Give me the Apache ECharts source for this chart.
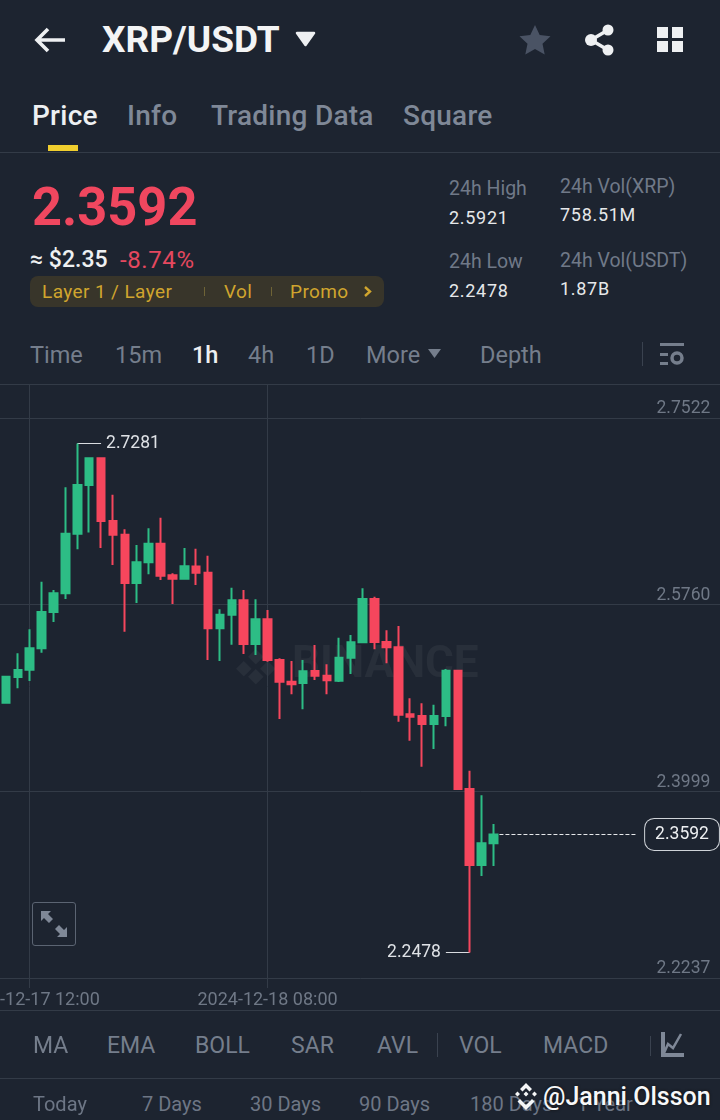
<!DOCTYPE html>
<html>
<head>
<meta charset="utf-8">
<title>XRP/USDT</title>
<style>
html,body{margin:0;padding:0;background:#1d2430;}
#page{position:relative;width:720px;height:1120px;overflow:hidden;background:#1d2430;font-family:Roboto,"Noto Sans",sans-serif;color:#848e9c;}
#page span,#page i,#page svg{position:absolute;white-space:nowrap;font-style:normal;}
.ln{position:absolute;left:0;width:720px;height:1px;background:#333b47;}
.tab{top:99px;font-size:28px;line-height:34px;font-weight:500;color:#7f8897;letter-spacing:.25px;}
.lbl{font-size:19.500px;line-height:24px;color:#707988;}
.val{font-size:18px;line-height:24px;color:#e6e8ea;letter-spacing:.7px;}
.tf{top:341px;font-size:23.500px;line-height:28px;color:#757e8c;}
.ind{top:1032px;font-size:23px;line-height:28px;color:#757e8c;}
.rng{top:1092px;font-size:20px;line-height:24px;color:#6d7685;}
.bdg{top:279px;font-size:19px;line-height:25px;color:#d0a52e;letter-spacing:.4px;}
#chart{position:absolute;left:0;top:385px;width:720px;height:625px;}
</style>
</head>
<body>
<div id="page">
  <svg style="left:34px;top:26px" width="32" height="28" viewBox="0 0 32 28"><path d="M14 3L3 14l11 11M3 14h28" fill="none" stroke="#eef0f2" stroke-width="3.600"/></svg>
  <span style="left:102px;top:19px;font-size:37px;line-height:42px;font-weight:700;color:#f3f4f5">XRP/USDT</span>
  <svg style="left:295px;top:31px" width="21" height="16" viewBox="0 0 21 16"><path d="M2 2h17l-8.500 12z" fill="#eef0f2" stroke="#eef0f2" stroke-width="2.500" stroke-linejoin="round"/></svg>
  <svg style="left:519px;top:24px" width="32" height="31" viewBox="0 0 32 31"><path d="M16 1l4.700 10 10.800 1.300-8 7.400 2.200 10.800L16 25l-9.700 5.500 2.200-10.800-8-7.400L11.300 11z" fill="#4a5364"/></svg>
  <svg style="left:584px;top:24px" width="31" height="32" viewBox="0 0 31 32"><path d="M24 6L7 16l17 10" fill="none" stroke="#eef0f2" stroke-width="3.500"/><circle cx="24" cy="6" r="5.500" fill="#eef0f2"/><circle cx="7" cy="16" r="6" fill="#eef0f2"/><circle cx="24" cy="26" r="5.500" fill="#eef0f2"/></svg>
  <svg style="left:656px;top:26px" width="28" height="27" viewBox="0 0 28 27"><path d="M1 1h11v11H1zM16 1h11v11H16zM1 15h11v11H1zM16 15h11v11H16z" fill="#eef0f2"/></svg>

  <span class="tab" style="left:32px;color:#eef0f2">Price</span>
  <span class="tab" style="left:127px">Info</span>
  <span class="tab" style="left:211px">Trading Data</span>
  <span class="tab" style="left:403px">Square</span>
  <i style="left:48px;top:145px;width:30px;height:6px;background:#f0ce2e"></i>
  <div class="ln" style="top:152px"></div>

  <span style="left:32px;top:175px;font-size:54px;line-height:64px;font-weight:700;color:#f0475f;transform:scaleX(.97);transform-origin:left center">2.3592</span>
  <span style="left:30px;top:246px;font-size:23px;line-height:28px;font-weight:500;color:#eef0f2">≈ $2.35</span>
  <span style="left:120px;top:246px;font-size:24px;line-height:28px;color:#e5485f;letter-spacing:.6px">-8.74%</span>
  <i style="left:30px;top:276px;width:354px;height:31px;border-radius:8px;background:#38352a"></i>
  <span class="bdg" style="left:42px">Layer 1 / Layer</span>
  <i style="left:204px;top:287px;width:1px;height:9px;background:#6e6336"></i>
  <span class="bdg" style="left:224px">Vol</span>
  <i style="left:271px;top:287px;width:1px;height:9px;background:#6e6336"></i>
  <span class="bdg" style="left:290px">Promo</span>
  <svg style="left:363px;top:285px" width="10" height="13" viewBox="0 0 10 13"><path d="M2 2l5 4.500-5 4.500" fill="none" stroke="#d0a52e" stroke-width="2.400"/></svg>

  <span class="lbl" style="left:449px;top:177px">24h High</span>
  <span class="val" style="left:449px;top:206px">2.5921</span>
  <span class="lbl" style="left:560px;top:175px">24h Vol(XRP)</span>
  <span class="val" style="left:560px;top:203px">758.51M</span>
  <span class="lbl" style="left:449px;top:250px">24h Low</span>
  <span class="val" style="left:449px;top:279px">2.2478</span>
  <span class="lbl" style="left:560px;top:249px">24h Vol(USDT)</span>
  <span class="val" style="left:560px;top:277px">1.87B</span>

  <span class="tf" style="left:30px">Time</span>
  <span class="tf" style="left:115px">15m</span>
  <span class="tf" style="left:192px;color:#eef0f2;font-weight:500">1h</span>
  <span class="tf" style="left:248px">4h</span>
  <span class="tf" style="left:306px">1D</span>
  <span class="tf" style="left:366px">More</span>
  <svg style="left:427px;top:348px" width="15" height="12" viewBox="0 0 15 12"><path d="M1 1h13l-6.500 9z" fill="#757e8c"/></svg>
  <span class="tf" style="left:480px">Depth</span>
  <i style="left:642px;top:342px;width:1px;height:24px;background:#3a424f"></i>
  <svg style="left:660px;top:342px" width="25" height="25" viewBox="0 0 25 25"><path d="M0 1h24v3H0zM0 11h8v3H0zM0 20h8v3H0z" fill="#757e8c"/><circle cx="17" cy="16" r="5" fill="none" stroke="#757e8c" stroke-width="3.500"/></svg>
  <div class="ln" style="top:384px"></div>

  <div id="chart"></div>

  <i style="left:32px;top:902px;width:42px;height:42px;border:1.500px solid #5b6472;border-radius:3px"></i>
  <svg style="left:40px;top:910px" width="28" height="28" viewBox="0 0 28 28"><path d="M1 1h10l-3 3 5 5-4 4-5-5-3 3zM27 27H17l3-3-5-5 4-4 5 5 3-3z" fill="#7f8897"/></svg>

  <div class="ln" style="top:1010px"></div>
  <span class="ind" style="left:33px">MA</span>
  <span class="ind" style="left:107px">EMA</span>
  <span class="ind" style="left:195px">BOLL</span>
  <span class="ind" style="left:291px">SAR</span>
  <span class="ind" style="left:377px">AVL</span>
  <i style="left:437px;top:1033px;width:1px;height:24px;background:#3a424f"></i>
  <span class="ind" style="left:459px">VOL</span>
  <span class="ind" style="left:543px">MACD</span>
  <i style="left:650px;top:1036px;width:1px;height:20px;background:#3a424f"></i>
  <svg style="left:661px;top:1032px" width="23" height="25" viewBox="0 0 23 25"><path d="M3 21l4-9 5 4 8-14" fill="none" stroke="#7f8897" stroke-width="2.500"/><path d="M0 25V0h4v21h19v4z" fill="#7f8897"/></svg>
  <div class="ln" style="top:1078px"></div>
  <span class="rng" style="left:33px">Today</span>
  <span class="rng" style="left:142px">7 Days</span>
  <span class="rng" style="left:250px">30 Days</span>
  <span class="rng" style="left:359px">90 Days</span>
  <span class="rng" style="left:470px">180 Days</span>
  <span class="rng" style="left:577px">1 Year</span>

  <svg style="left:512px;top:1083px" width="28" height="28" viewBox="0 0 28 28"><path d="M14 1l6 6-2.500 2.500L14 6l-3.500 3.500L8 7zM5.500 9.500L8 12l-2.500 2.500L3 12zM22.500 9.500L25 12l-2.500 2.500L20 12zM14 9.500l2.500 2.500-2.500 2.500-2.500-2.500zM8 17l6 6 6-6 2.500 2.500L14 28l-8.500-8.500z" fill="#f5f6f7" transform="translate(0,-1)"/></svg>
  <span style="left:543px;top:1082px;font-size:25px;line-height:30px;font-weight:500;color:#f7f8f9;text-shadow:0 0 3px #111">@Janni Olsson</span>
</div>

<script src="https://cdn.jsdelivr.net/npm/echarts@6/dist/echarts.min.js"></script>
<script>
// 1h candles, first one is 2024-12-17 10:00
var times = [
  "2024-12-17 10:00","2024-12-17 11:00","2024-12-17 12:00","2024-12-17 13:00","2024-12-17 14:00","2024-12-17 15:00",
  "2024-12-17 16:00","2024-12-17 17:00","2024-12-17 18:00","2024-12-17 19:00","2024-12-17 20:00","2024-12-17 21:00",
  "2024-12-17 22:00","2024-12-17 23:00","2024-12-18 00:00","2024-12-18 01:00","2024-12-18 02:00","2024-12-18 03:00",
  "2024-12-18 04:00","2024-12-18 05:00","2024-12-18 06:00","2024-12-18 07:00","2024-12-18 08:00","2024-12-18 09:00",
  "2024-12-18 10:00","2024-12-18 11:00","2024-12-18 12:00","2024-12-18 13:00","2024-12-18 14:00","2024-12-18 15:00",
  "2024-12-18 16:00","2024-12-18 17:00","2024-12-18 18:00","2024-12-18 19:00","2024-12-18 20:00","2024-12-18 21:00",
  "2024-12-18 22:00","2024-12-18 23:00","2024-12-19 00:00","2024-12-19 01:00","2024-12-19 02:00","2024-12-19 03:00"
];
var opens = [
  2.4835,2.5078,2.5147,2.5349,2.5691,2.5868,2.6430,2.6890,2.7142,2.6550,2.6421,2.5965,2.6160,2.6336,
  2.6037,2.6005,2.6121,2.6062,2.5537,2.5666,2.5802,2.5389,2.5623,2.5238,2.5033,2.5021,2.5134,2.5090,
  2.5043,2.5260,2.5405,2.5814,2.5408,2.5358,2.4726,2.4710,2.4634,2.4710,2.5137,2.4021,2.3303,2.3508
];
var closes = [
  2.5081,2.5144,2.5349,2.5691,2.5868,2.6430,2.6890,2.7142,2.6550,2.6421,2.5965,2.6160,2.6336,2.6034,
  2.6005,2.6122,2.6062,2.5537,2.5666,2.5802,2.5389,2.5623,2.5238,2.5033,2.5009,2.5131,2.5090,2.5047,
  2.5260,2.5405,2.5814,2.5408,2.5358,2.4722,2.4703,2.4634,2.4710,2.5137,2.4021,2.3303,2.3508,2.3592
];
var lows = [
  2.4829,2.4971,2.5040,2.5307,2.5597,2.5814,2.6283,2.6440,2.6295,2.6135,2.5505,2.5776,2.6047,2.5993,
  2.5767,2.6003,2.5946,2.5238,2.5229,2.5383,2.5295,2.5285,2.5222,2.4681,2.4914,2.4773,2.5050,2.4914,
  2.5030,2.5106,2.5401,2.5339,2.5207,2.4656,2.4477,2.4231,2.4398,2.4612,2.4021,2.2478,2.3200,2.3294
];
var highs = [
  2.5085,2.5301,2.5528,2.5977,2.5899,2.6868,2.7281,2.7151,2.7145,2.6798,2.6472,2.6323,2.6481,2.6581,
  2.6056,2.6295,2.6289,2.6222,2.5717,2.5920,2.5899,2.5812,2.5710,2.5254,2.5229,2.5238,2.5380,2.5198,
  2.5449,2.5474,2.5915,2.5836,2.5518,2.5559,2.4877,2.4829,2.4816,2.5153,2.5137,2.4193,2.3961,2.3690
];
var priceTicks = [2.2237, 2.3999, 2.5760, 2.7522];
var labelledTimes = ["2024-12-17 12:00", "2024-12-18 08:00"];
var highPrice = 2.7281;
var lowPrice = 2.2478;
var lastPrice = 2.3592;

// empty slots on the right, the app leaves room after the last candle
var categories = times.concat(new Array(19).fill(""));
var candles = [];
for (var i = 0; i < times.length; i++) {
    candles.push([opens[i], closes[i], lows[i], highs[i]]);
}
var showTime = function (index, value) {
    return labelledTimes.indexOf(value) >= 0;
};
var markFill = "rgba(255,255,255,0.05)";

var myChart = echarts.init(document.getElementById("chart"));
var option = {
    backgroundColor: "transparent",
    animation: false,
    graphic: [{
        type: "text",
        left: 292,
        top: 259,
        z: 0,
        silent: true,
        style: { text: "BINANCE", fill: markFill, font: "bold 44px Roboto" }
    }, {
        type: "group",
        left: 236,
        top: 264,
        z: 0,
        silent: true,
        children: [
            { type: "rect", x: 16, y: 0, rotation: Math.PI / 4, shape: { width: 11, height: 11 }, style: { fill: markFill } },
            { type: "rect", x: 4, y: 12, rotation: Math.PI / 4, shape: { width: 11, height: 11 }, style: { fill: markFill } },
            { type: "rect", x: 28, y: 12, rotation: Math.PI / 4, shape: { width: 11, height: 11 }, style: { fill: markFill } },
            { type: "rect", x: 16, y: 20, rotation: Math.PI / 4, shape: { width: 11, height: 11 }, style: { fill: markFill } }
        ]
    }],
    grid: { left: 0, top: 0, width: 725.3, height: 603, outerBoundsMode: "none" },
    xAxis: {
        type: "category",
        data: categories,
        boundaryGap: true,
        axisLine: { show: false },
        axisTick: { show: false, alignWithLabel: true, interval: showTime },
        splitLine: { show: true, alignWithLabel: true, interval: showTime, lineStyle: { color: "#333b47", width: 1 } },
        axisLabel: {
            interval: showTime,
            margin: 3,
            color: "#6f7886",
            fontSize: 18,
            fontFamily: "Roboto",
            hideOverlap: false
        }
    },
    yAxis: {
        type: "value",
        position: "right",
        min: 2.2143,
        max: 2.7833,
        scale: true,
        axisLine: { show: false },
        axisTick: { show: false, customValues: priceTicks },
        splitLine: { show: true, lineStyle: { color: "#333b47", width: 1 } },
        axisLabel: {
            inside: true,
            customValues: priceTicks,
            margin: 15,
            align: "right",
            verticalAlign: "bottom",
            padding: 0,
            color: "#6f7886",
            fontSize: 17.500,
            fontFamily: "Roboto",
            formatter: function (v) { return v.toFixed(4); }
        }
    },
    series: [{
        type: "candlestick",
        z: 2,
        barWidth: 8,
        data: candles,
        itemStyle: {
            color: "#2dbd85",
            color0: "#f6465d",
            borderColor: "#2dbd85",
            borderColor0: "#f6465d",
            borderWidth: 2
        },
        markLine: {
            z: 1,
            silent: true,
            symbol: "none",
            animation: false,
            lineStyle: { color: "#d9dce0", width: 1, type: "solid" },
            label: { color: "#dfe2e6", fontSize: 17.500, fontFamily: "Roboto", position: "end", distance: 5 },
            data: [
                [{ coord: [6, highPrice], value: highPrice }, { coord: [8, highPrice] }],
                [{ coord: [39, lowPrice], value: lowPrice }, { coord: [37, lowPrice] }],
                [{
                    coord: [41, lastPrice],
                    value: lastPrice,
                    lineStyle: { type: "dashed", color: "#e6e8ea" },
                    label: {
                        distance: 9,
                        color: "#eef0f2",
                        backgroundColor: "#1d2430",
                        borderColor: "#cfd3d8",
                        borderWidth: 1,
                        borderRadius: 9,
                        padding: [8, 10, 5, 10]
                    }
                }, { coord: [53, lastPrice] }]
            ]
        }
    }]
};
myChart.setOption(option);
</script>
</body>
</html>
